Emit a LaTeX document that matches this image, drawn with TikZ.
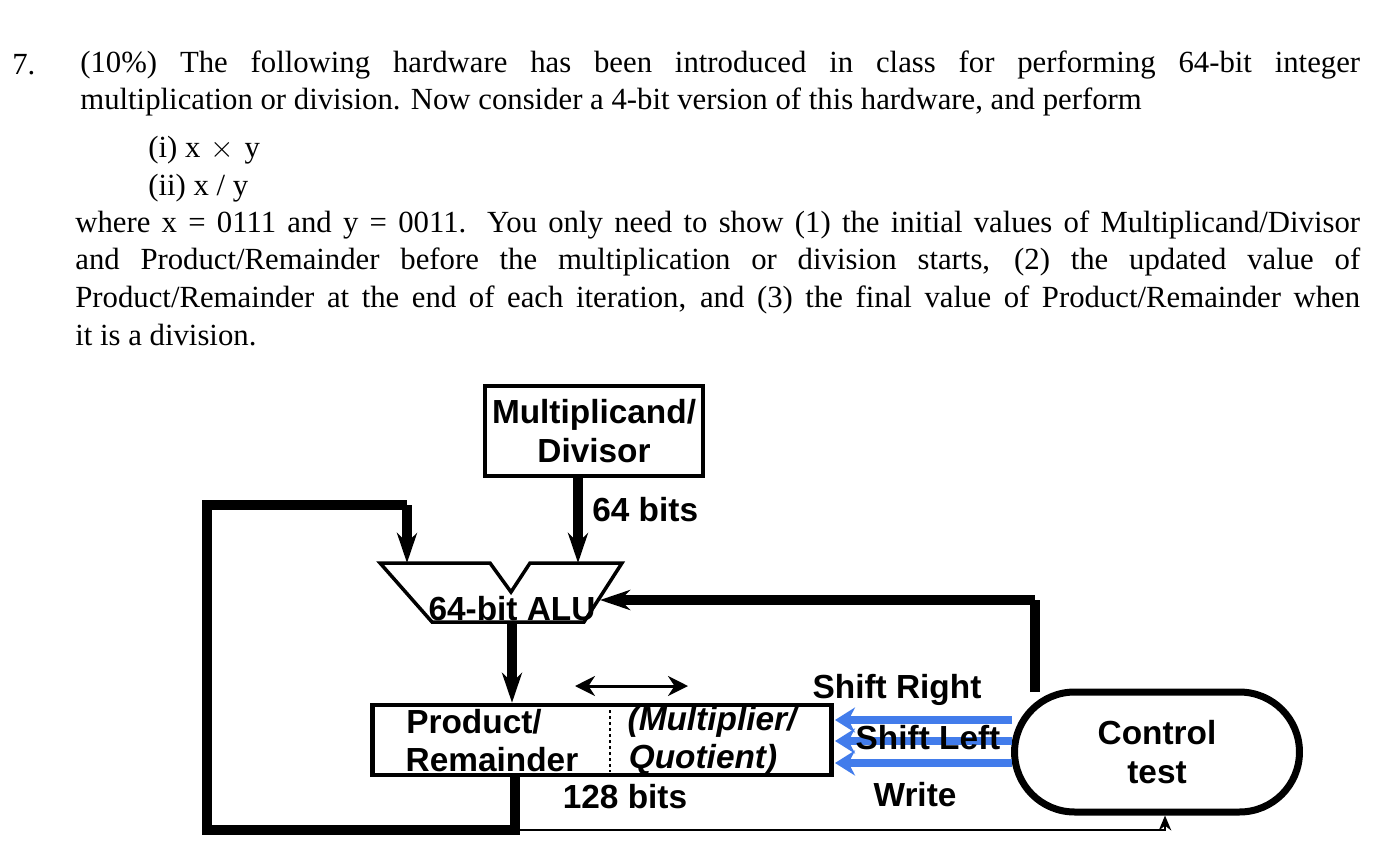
\documentclass[tikz,border=0pt]{standalone}
\usepackage{fontspec}
\setmainfont{Liberation Serif}
\newfontfamily\diafont{Liberation Sans}
\usetikzlibrary{arrows.meta,positioning}
\definecolor{shiftblue}{RGB}{66,124,235}
\tikzset{
  qtext/.style={anchor=north west,inner sep=0pt,font=\fontsize{17.5}{21.5}\selectfont},
  lbl/.style={font=\diafont\bfseries\fontsize{19}{22}\selectfont,inner sep=0pt},
  bus/.style={line width=1.9mm,-{Stealth[length=6mm,width=4mm]}},
  blk/.style={draw,line width=0.9mm},
  ctl/.style={line width=1.6mm,shiftblue,-{Stealth[length=4mm,width=5mm]}}
}
\begin{document}
\begin{tikzpicture}[x=0.02cm,y=-0.02cm]
\useasboundingbox (0,0) rectangle (1388,852);
%texto da questao
  \node[qtext] (num) at (12,54) {7.};
  \node[qtext,text width=25.6cm,align=justify] (q1) at (80,50)
    {(10\%) The following hardware has been introduced in class for performing 64-bit integer\linebreak
     multiplication or division. Now consider a 4-bit version of this hardware, and perform};
  \node[qtext] (q2) at (148,136) {(i) x\,\,$\times$\,\,y};
  \node[qtext] (q3) at (148,174) {(ii) x / y};
  \node[qtext,text width=25.7cm,align=justify] (q4) at (75,210)
    {where x = 0111 and y = 0011. You only need to show (1) the initial values of Multiplicand/Divisor\linebreak
     and Product/Remainder before the multiplication or division starts, (2) the updated value of\linebreak
     Product/Remainder at the end of each iteration, and (3) the final value of Product/Remainder when\linebreak
     it is a division.};
%blocos
  \node[blk,minimum width=4.36cm,minimum height=1.8cm,align=center,lbl] (mcand) at (594,431)
    {Multiplicand/\\Divisor};
  \draw[line width=0.7mm] (380,563) -- (490,563) -- (511,592) -- (530,563) -- (622,563)
    -- (584,622) -- (432,622) -- cycle;
  \node[lbl] (alu) at (512,609) {64-bit ALU};
  \coordinate (aluL) at (407,563);
  \coordinate (aluR) at (578,563);
  \coordinate (aluB) at (512,622);
  \coordinate (aluC) at (600,600);
  \node[blk,minimum width=9.18cm,minimum height=1.4cm] (prod) at (602,740) {};
  \draw[line width=0.5mm,dotted] (610,710) -- (610,772);
  \node[lbl] (p1) at (474,722) {Product/};
  \node[lbl] (p2) at (492,760) {Remainder};
  \node[lbl,font=\diafont\bfseries\itshape\fontsize{19}{22}\selectfont] (m1) at (712,722) {(Multiplier/};
  \node[lbl,font=\diafont\bfseries\itshape\fontsize{19}{22}\selectfont] (m2) at (703,760) {Quotient)};
  \node[lbl] (w128) at (625,797) {128 bits};
  \node[draw,line width=1.4mm,rounded corners=1.2cm,minimum width=5.7cm,minimum height=2.4cm,
        align=center,lbl] (ctrl) at (1157,752) {Control\\test};
%ligacoes
  \draw[bus] (mcand.south -| aluR) -- (aluR);
  \node[lbl,anchor=west] (w64) at (592,510) {64 bits};
  \draw[bus] (aluB) -- (prod.north -| aluB);
  \draw[line width=1.9mm] (515,775) -- (515,830) -- (207,830) -- (207,505) -- (407,505);
  \draw[bus] (407,505) -- (aluL);
  \draw[line width=1.9mm] (1035,692) -- (1035,600);
  \draw[bus] (1035,600) -- (aluC);
  \draw[line width=0.6mm,{Stealth[length=4mm,width=4mm]}-{Stealth[length=4mm,width=4mm]}] (575,686) -- (688,686);
  \draw[line width=0.4mm,-{Stealth[length=3mm,width=2.5mm]}] (515,830) -- (1165,830) -- (ctrl.south -| 1165,0);
  \draw[ctl] (1012,720) -- (835,720);
  \draw[ctl] (1012,741) -- (835,741);
  \draw[ctl] (1012,763) -- (835,763);
  \node[lbl] (sr) at (897,690) {Shift Right};
  \node[lbl] (sl) at (928,738) {Shift Left};
  \node[lbl] (wr) at (915,795) {Write};
\end{tikzpicture}
\end{document}
